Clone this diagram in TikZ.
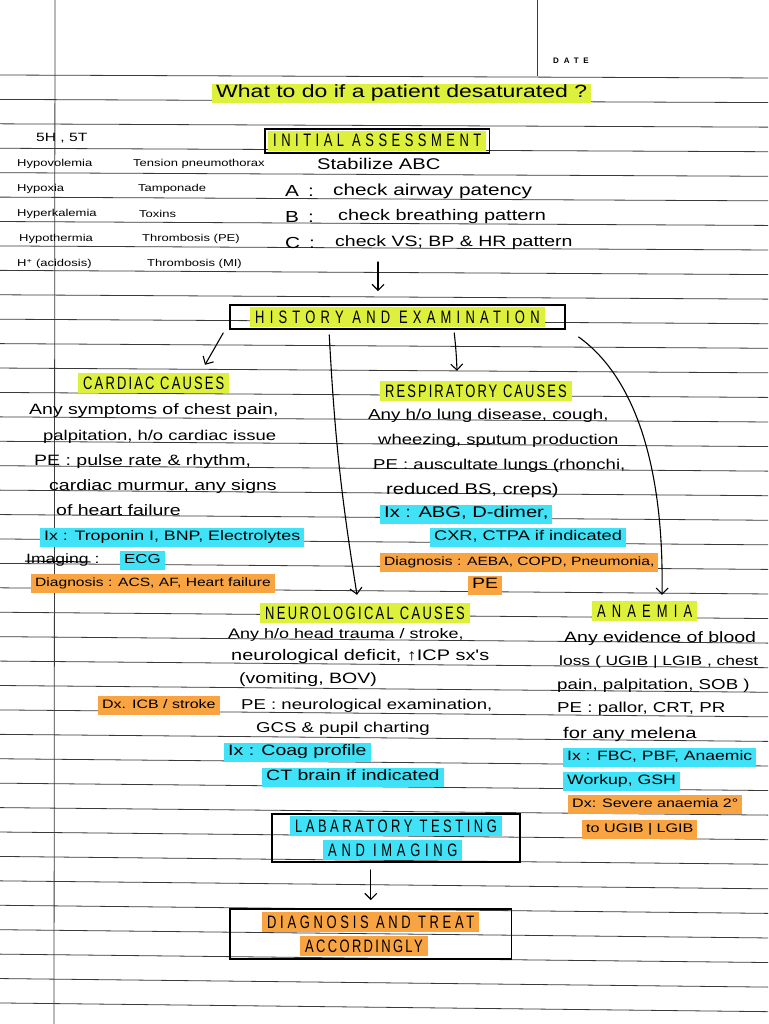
\documentclass[tikz,border=0pt]{standalone}
\usepackage{fontspec}
\setmainfont{Liberation Sans}
\newfontfamily\hand[FakeStretch=1.3]{Liberation Sans}
\newfontfamily\caps[FakeStretch=0.72]{Liberation Sans}
\newfontfamily\datefont[LetterSpace=60]{Liberation Sans}
\usetikzlibrary{positioning,arrows.meta,fit}
\definecolor{hlyellow}{HTML}{DCF03C}
\definecolor{hlcyan}{HTML}{3FE2F6}
\definecolor{hlorange}{HTML}{F8A443}
\definecolor{ruling}{HTML}{3A3A3A}

\begin{document}
\begin{tikzpicture}[x=1pt,y=-1pt,
    txt/.style={anchor=west, inner sep=1pt, font=\hand\fontsize{15}{16}\selectfont},
    fs/.style={font=\hand\fontsize{#1}{#1}\selectfont},
    sml/.style={anchor=west, inner sep=1pt, font=\hand\fontsize{10}{11}\selectfont},
    hl/.style={txt, inner xsep=4pt, inner ysep=3pt, text height=10pt, text depth=3pt},
    head/.style={anchor=west, inner xsep=5pt, inner ysep=3pt, text height=13pt, text depth=1pt,
      font=\caps\fontsize{18}{18}\selectfont\addfontfeature{LetterSpace=#1}},
    head/.default=13,
    hbox/.style={draw, line width=1.5pt, inner ysep=2pt},
    arr/.style={-{Straight Barb[length=6pt,width=12pt]}, line width=1.1pt, line cap=round},
    rule/.style={draw=ruling, line width=0.8pt}]
  \fill[white] (0,0) rectangle (768,1024);
  \useasboundingbox (0,0) rectangle (768,1024);

  % ruled paper
  \foreach \i in {0,...,38}
    \draw[rule] (0,{75+24.42*\i}) -- (768,{78+24.57*\i});
  \draw[rule] (55,0) -- (54,1024);
  \draw[rule] (537,0) -- (537,76);
  \node[font=\datefont\bfseries\fontsize{8}{8}\selectfont] (date) at (571,61) {DATE};

  % title
  \node[hl, fill=hlyellow, fs=17.7] (title) at (212,94) {What to do if a patient desaturated ?};

  % 5H 5T
  \node[sml, fs=12] (hts) at (35,138) {5H , 5T};
  \node[sml] (h1) at (16,164) {Hypovolemia};
  \node[sml] (h2) at (16,189) {Hypoxia};
  \node[sml] (h3) at (16,214) {Hyperkalemia};
  \node[sml] (h4) at (18,239) {Hypothermia};
  \node[sml] (h5) at (16,264) {H\textsuperscript{+} (acidosis)};
  \node[sml] (t1) at (132,164) {Tension pneumothorax};
  \node[sml] (t2) at (137,189) {Tamponade};
  \node[sml] (t3) at (138,214) {Toxins};
  \node[sml] (t4) at (141,239) {Thrombosis (PE)};
  \node[sml] (t5) at (146,264) {Thrombosis (MI)};

  % initial assessment
  \node[head=25, fill=hlyellow] (initT) at (268,141) {INITIAL ASSESSMENT};
  \node[hbox, fit=(initT), inner xsep=3pt] (init) {};
  \node[txt, fs=15.5] (stab) at (316,164) {Stabilize ABC};
  \node[txt, fs=16] (raL) at (284,191) {A\hspace{9pt}:};
  \node[txt, fs=16] (ra) at (332,191) {check airway patency};
  \node[txt, fs=16] (rbL) at (284,217) {B\hspace{9pt}:};
  \node[txt, fs=15.3] (rb) at (337,217) {check breathing pattern};
  \node[txt, fs=16] (rcL) at (284,243) {C\hspace{9pt}:};
  \node[txt, fs=15] (rc) at (334,243) {check VS; BP \& HR pattern};
  \coordinate (abcend) at (378,262);

  % history and examination
  \node[head=29, fill=hlyellow] (histT) at (250,317) {HISTORY AND EXAMINATION};
  \node[hbox, fit=(histT), inner xsep=20pt] (hist) {};
  \draw[arr, shorten >=13pt] (abcend) -- (abcend |- hist.north);

  % cardiac
  \node[head=12, fill=hlyellow] (card) at (78,383) {CARDIAC CAUSES};
  \node[txt] (c1) at (28,411) {Any symptoms of chest pain,};
  \node[txt, fs=14.2] (c2) at (42,437) {palpitation, h/o cardiac issue};
  \node[txt] (c3) at (33,462) {PE : pulse rate \& rhythm,};
  \node[txt] (c4) at (48,487) {cardiac murmur, any signs};
  \node[txt] (c5) at (55,510) {of heart failure};
  \node[hl, fill=hlcyan, fs=13.7] (cix) at (40,537) {Ix : Troponin I, BNP, Electrolytes};
  \node[txt, fs=13.5] (cim) at (25,560) {Imaging\hspace{6pt}:};
  \draw[line width=1pt] ([yshift=-1pt]cim.west) -- ([xshift=-10pt,yshift=-2pt]cim.east);
  \node[hl, fill=hlcyan, fs=13] (cecg) at (120,560) {ECG};
  \node[hl, fill=hlorange, fs=12] (cdx) at (31,583) {Diagnosis : ACS, AF, Heart failure};

  % respiratory
  \node[head=11.5, fill=hlyellow] (resp) at (380,391) {RESPIRATORY CAUSES};
  \node[txt, fs=14.4] (r1) at (367,416) {Any h/o lung disease, cough,};
  \node[txt, fs=14.2] (r2) at (377,441) {wheezing, sputum production};
  \node[txt, fs=14.3] (r3) at (372,466) {PE : auscultate lungs (rhonchi,};
  \node[txt, fs=15.5] (r4) at (385,490) {reduced BS, creps)};
  \node[hl, fill=hlcyan, fs=15.5] (rix) at (380,514) {Ix : ABG, D-dimer,};
  \node[hl, fill=hlcyan, fs=14] (rcx) at (430,537) {CXR, CTPA if indicated};
  \node[hl, fill=hlorange, fs=12] (rdx) at (380,562) {Diagnosis : AEBA, COPD, Pneumonia,};
  \node[hl, fill=hlorange] (rpe) at (468,585) {PE};

  % neurological
  \node[head=13, fill=hlyellow] (neuro) at (260,613) {NEUROLOGICAL CAUSES};
  \node[txt, fs=13.8] (n1) at (227,635) {Any h/o head trauma / stroke,};
  \node[txt, fs=15.3] (n2) at (230,657) {neurological deficit, \char"2191 ICP sx's};
  \node[txt] (n3) at (238,680) {(vomiting, BOV)};
  \node[txt, fs=14.3] (n4) at (240,706) {PE : neurological examination,};
  \node[txt, fs=14.3] (n5) at (255,729) {GCS \& pupil charting};
  \node[hl, fill=hlcyan] (nix) at (224,752) {Ix : Coag profile};
  \node[hl, fill=hlcyan] (nct) at (262,777) {CT brain if indicated};
  \node[hl, fill=hlorange, fs=12.3] (ndx) at (98,705) {Dx. ICB / stroke};

  % anaemia
  \node[head=34, fill=hlyellow] (anae) at (592,611) {ANAEMIA};
  \node[txt] (a1) at (563,639) {Any evidence of blood};
  \node[txt, fs=13.4] (a2) at (558,662) {loss ( UGIB | LGIB , chest};
  \node[txt, fs=14.4] (a3) at (556,686) {pain, palpitation, SOB )};
  \node[txt, fs=14.4] (a4) at (556,709) {PE : pallor, CRT, PR};
  \node[txt, fs=15.5] (a5) at (562,734) {for any melena};
  \node[hl, fill=hlcyan, fs=13.5] (aix) at (563,757) {Ix : FBC, PBF, Anaemic};
  \node[hl, fill=hlcyan, fs=13.6] (awk) at (563,781) {Workup, GSH};
  \node[hl, fill=hlorange, fs=12.3] (adx) at (568,804) {Dx: Severe anaemia 2°};
  \node[hl, fill=hlorange, fs=12.4] (adx2) at (582,829) {to UGIB | LGIB};

  % arrows from history
  \draw[arr] ([xshift=-6pt,yshift=-3pt]hist.south west) -- ([xshift=127pt,yshift=8pt]card.north west);
  \draw[arr] ([xshift=225pt,yshift=-3pt]hist.south west) to[bend left=2] ([xshift=77pt,yshift=10pt]resp.north west);
  \draw[arr] ([xshift=100pt,yshift=-5pt]hist.south west) to[bend right=3] ([xshift=97pt,yshift=8pt]neuro.north west);
  \draw[arr] ([xshift=13pt,yshift=-7pt]hist.south east) .. controls +(60,43) and +(2,-120) .. ([xshift=70pt,yshift=6pt]anae.north west);

  % lab testing
  \node[head=19.5, fill=hlcyan] (lab1) at (290,826) {LABARATORY TESTING};
  \node[head=26, fill=hlcyan] (lab2) at (323,850) {AND IMAGING};
  \node[hbox, fit=(lab1)(lab2), inner xsep=18pt] (lab) {};

  % diagnosis
  \node[head=20.5, fill=hlorange] (diag1) at (262,922) {DIAGNOSIS AND TREAT};
  \node[head=13, fill=hlorange] (diag2) at (300,946) {ACCORDINGLY};
  \node[hbox, fit=(diag1)(diag2), inner xsep=32pt, inner ysep=3pt] (diag) {};
  \draw[arr, shorten <=7pt, shorten >=8pt] (lab.south -| diag.north) -- (diag.north);
\end{tikzpicture}
\end{document}
